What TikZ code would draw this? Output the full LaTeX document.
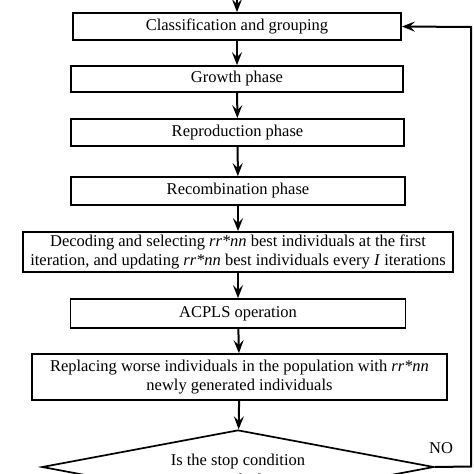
\documentclass[tikz,border=0pt]{standalone}
\usepackage{fontspec}
\setmainfont{Liberation Serif}
\usetikzlibrary{arrows.meta,shapes.geometric}
\begin{document}
\begin{tikzpicture}[x=1pt,y=-1pt,
  stepbox/.style={draw,line width=1.7pt,rectangle,inner sep=0pt,align=center,
    font=\fontsize{16.5}{19.8}\selectfont},
  decision/.style={draw,line width=1.7pt,diamond,inner sep=0pt,aspect=5.3,
    minimum width=392pt,minimum height=74pt},
  lbl/.style={font=\fontsize{16.5}{19.8}\selectfont,inner sep=0pt,align=center},
  flow/.style={line width=2pt,-{Stealth[length=13pt,width=10pt,inset=5pt]}}]
\clip (0,0) rectangle (474,474);
\node[stepbox,minimum width=328pt,minimum height=27pt] (b1) at (237,26.5) {Classification and grouping};
\node[stepbox,minimum width=332pt,minimum height=26pt] (b2) at (237,79) {Growth phase};
\node[stepbox,minimum width=333pt,minimum height=27pt] (b3) at (237.5,132.5) {Reproduction phase};
\node[stepbox,minimum width=334pt,minimum height=28pt] (b4) at (238,191) {Recombination phase};
\node[stepbox,minimum width=430pt,minimum height=40pt] (b5) at (238,252) {Decoding and selecting \textit{rr*nn} best individuals at the first\\iteration, and updating \textit{rr*nn} best individuals every \textit{I} iterations};
\node[stepbox,minimum width=335pt,minimum height=29pt] (b6) at (238,313.5) {ACPLS operation};
\node[stepbox,minimum width=415pt,minimum height=46pt] (b7) at (239.5,377) {Replacing worse individuals in the population with \textit{rr*nn}\\newly generated individuals};
\node[decision] (d) at (238,467) {};
\node[lbl,anchor=north] (dt) at (238,453.5) {Is the stop condition\\[1pt]satisfied?};
\node[lbl] (no) at (441,448) {NO};
\coordinate (top) at (237,-2);
\coordinate (c1) at (471,466.5);
\coordinate (c2) at (471,27);
\draw[flow] (top) -- (b1.north);
\draw[flow] (b1) -- (b2);
\draw[flow] (b2) -- (b3);
\draw[flow] (b3) -- (b4);
\draw[flow] (b4) -- (b5);
\draw[flow] (b5) -- (b6);
\draw[flow] (b6) -- (b7);
\draw[flow] (b7) -- (d);
\draw[flow] (d.east) -- (c1) -- (c2) -- (b1.east);
\end{tikzpicture}
\end{document}
